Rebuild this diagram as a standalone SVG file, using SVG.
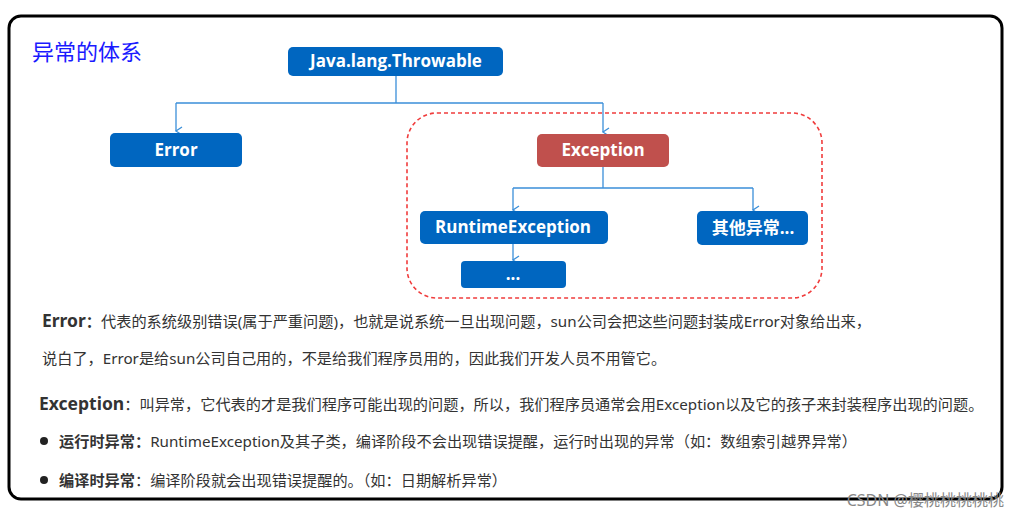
<svg xmlns="http://www.w3.org/2000/svg" width="1020" height="518" viewBox="0 0 1020 518">
<defs>
<marker id="ah" markerWidth="10" markerHeight="10" refX="5" refY="8" orient="auto-start-reverse" markerUnits="userSpaceOnUse" viewBox="0 0 10 10"><path d="M1,2 L5,8 L9,2" fill="none" stroke="#3B8FD9" stroke-width="1.3"/></marker>
</defs>
<style>
.n{fill:#0066C0}
.r{fill:#C0504D}
.nt{font-family:"Open Sans","Noto Sans","Noto Sans CJK SC",sans-serif;font-weight:bold;font-size:17px;fill:#fff;text-anchor:middle}
.c{fill:none;stroke:#3B8FD9;stroke-width:1.3}
.t{font-family:"Noto Sans","Noto Sans CJK SC",sans-serif;font-size:15.2px;fill:#333}
.b{font-weight:bold}
</style>
<rect width="1020" height="518" fill="#fff"/>
<rect x="9" y="16" width="993" height="483" rx="12" fill="#fff" stroke="#000" stroke-width="3"/>
<text x="32" y="60" font-family="'Noto Sans CJK SC',sans-serif" font-size="22" fill="#1a1aff">异常的体系</text>
<rect x="407" y="113" width="415" height="185" rx="30" fill="none" stroke="#F03C3C" stroke-width="1.6" stroke-dasharray="4 3"/>
<g id="connectors">
<path class="c" d="M396,76 V103 M176,103 H603"/>
<path class="c" d="M176,103 V131" marker-end="url(#ah)"/>
<path class="c" d="M603,103 V132" marker-end="url(#ah)"/>
<path class="c" d="M603,167 V188 M513,188 H753"/>
<path class="c" d="M513,188 V210" marker-end="url(#ah)"/>
<path class="c" d="M753,188 V210" marker-end="url(#ah)"/>
<path class="c" d="M513,244 V260" marker-end="url(#ah)"/>
</g>
<g id="throwable"><rect class="n" x="288" y="47" width="215" height="29" rx="5"/><text class="nt" x="396" y="67">Java.lang.Throwable</text></g>
<g id="error"><rect class="n" x="110" y="133" width="132" height="34" rx="5"/><text class="nt" x="176" y="156">Error</text></g>
<g id="exception"><rect class="r" x="537" y="134" width="132" height="33" rx="5"/><text class="nt" x="603" y="156">Exception</text></g>
<g id="runtime"><rect class="n" x="420" y="211" width="188" height="33" rx="5"/><text class="nt" x="513" y="233">RuntimeException</text></g>
<g id="other"><rect class="n" x="697" y="211" width="111" height="34" rx="5"/><text class="nt" x="753" y="234">其他异常...</text></g>
<g id="dots"><rect class="n" x="461" y="261" width="105" height="27" rx="4"/><text class="nt" x="513" y="280">...</text></g>
<text class="t" x="42" y="327"><tspan class="b" font-size="17.5">Error</tspan><tspan class="b">：</tspan>代表的系统级别错误(属于严重问题)，也就是说系统一旦出现问题，sun公司会把这些问题封装成Error对象给出来，</text>
<text class="t" x="42" y="364">说白了，Error是给sun公司自己用的，不是给我们程序员用的，因此我们开发人员不用管它。</text>
<text class="t" x="39" y="410"><tspan class="b" font-size="17.5">Exception</tspan>：叫异常，它代表的才是我们程序可能出现的问题，所以，我们程序员通常会用Exception以及它的孩子来封装程序出现的问题。</text>
<circle cx="44" cy="441" r="4" fill="#222"/>
<text class="t" x="59" y="447"><tspan class="b">运行时异常：</tspan>RuntimeException及其子类，编译阶段不会出现错误提醒，运行时出现的异常（如：数组索引越界异常）</text>
<circle cx="44" cy="480" r="4" fill="#222"/>
<text class="t" x="59" y="486"><tspan class="b">编译时异常</tspan>：编译阶段就会出现错误提醒的。（如：日期解析异常）</text>
<text x="1004" y="506" text-anchor="end" font-family="'Noto Sans','Noto Sans CJK SC',sans-serif" font-size="16" fill="#888">CSDN @樱桃桃桃桃桃</text>
</svg>
